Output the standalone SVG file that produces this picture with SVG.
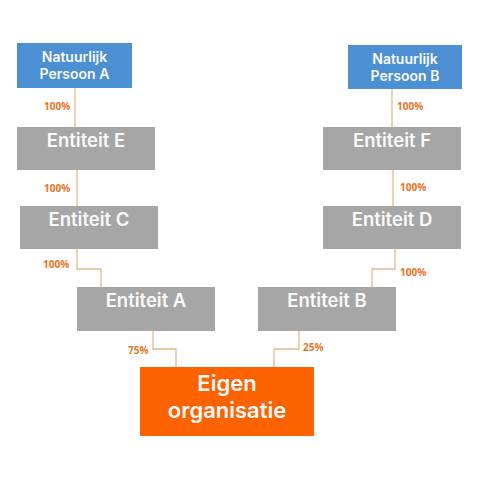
<svg xmlns="http://www.w3.org/2000/svg" width="480" height="480" viewBox="0 0 480 480">
<style>
.blue{fill:#4a90d2}
.gray{fill:#a6a6a6}
.org{fill:#ff6200}
.t{font-family:Inter,"Open Sans","Liberation Sans",sans-serif;font-weight:600;fill:#fafafa;text-anchor:middle}
.tp{font-size:14px}
.te{font-size:18.5px}
.tb{font-size:22px}
.lbl{font-family:"Open Sans","Noto Sans","Liberation Sans",sans-serif;font-weight:700;font-size:10px;fill:#e8731e}
.c{fill:none;stroke:#eab88a;stroke-width:1.3}
</style>
<rect width="480" height="480" fill="#ffffff"/>
<g id="connectors">
<path class="c" d="M75,88 V127"/>
<path class="c" d="M77,170 V206"/>
<path class="c" d="M77,249 V269 H101 V287"/>
<path class="c" d="M153,331 V349 H176 V367"/>
<path class="c" d="M392,89 V127"/>
<path class="c" d="M393,170 V206"/>
<path class="c" d="M395,249 V269 H372 V287"/>
<path class="c" d="M299,331 V349 H274 V367"/>
<text class="lbl" x="44" y="110">100%</text>
<text class="lbl" x="44" y="192">100%</text>
<text class="lbl" x="43" y="268">100%</text>
<text class="lbl" x="128" y="354">75%</text>
<text class="lbl" x="397" y="110">100%</text>
<text class="lbl" x="400" y="191">100%</text>
<text class="lbl" x="400" y="276">100%</text>
<text class="lbl" x="303" y="351">25%</text>
</g>
<g id="persoonA"><rect class="blue" x="17" y="43" width="115" height="45"/><text class="t tp" x="74.5" y="61.5">Natuurlijk</text><text class="t tp" x="74.5" y="79">Persoon A</text></g>
<g id="persoonB"><rect class="blue" x="348" y="45" width="114" height="44"/><text class="t tp" x="405" y="63.5">Natuurlijk</text><text class="t tp" x="405" y="81">Persoon B</text></g>
<g id="entiteitE"><rect class="gray" x="17" y="127" width="138" height="43"/><text class="t te" x="86" y="147">Entiteit E</text></g>
<g id="entiteitF"><rect class="gray" x="323" y="127" width="138" height="43"/><text class="t te" x="392" y="147">Entiteit F</text></g>
<g id="entiteitC"><rect class="gray" x="20" y="206" width="138" height="43"/><text class="t te" x="89" y="226">Entiteit C</text></g>
<g id="entiteitD"><rect class="gray" x="323" y="206" width="138" height="43"/><text class="t te" x="392" y="226">Entiteit D</text></g>
<g id="entiteitA"><rect class="gray" x="77" y="287" width="138" height="44"/><text class="t te" x="146" y="307">Entiteit A</text></g>
<g id="entiteitB"><rect class="gray" x="258" y="287" width="138" height="44"/><text class="t te" x="327" y="307">Entiteit B</text></g>
<g id="eigen"><rect class="org" x="140" y="367" width="174" height="69"/><text class="t tb" x="227" y="391">Eigen</text><text class="t tb" x="227" y="418">organisatie</text></g>
</svg>
